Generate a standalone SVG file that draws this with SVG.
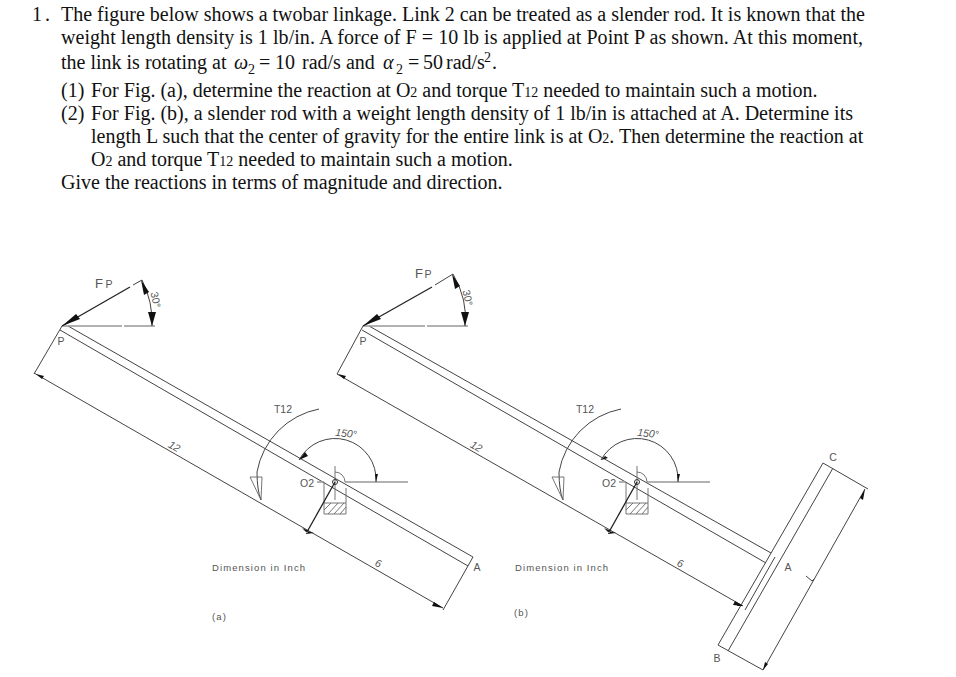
<svg xmlns="http://www.w3.org/2000/svg" width="956" height="677" viewBox="0 0 956 677">
<style>
.t{font-family:"Liberation Serif","Times New Roman",serif;font-size:20px;fill:#111}
.s{font-size:14px}
.i{font-style:italic}
.c{font-family:"Liberation Sans",Arial,sans-serif;fill:#555;font-size:10.5px;text-anchor:middle}
.f{font-size:13px}
.d{font-family:"Liberation Sans",Arial,sans-serif;fill:#555;font-size:9.5px;letter-spacing:1.1px}
.l{fill:none;stroke:#444;stroke-width:1}
.g{fill:none;stroke:#999;stroke-width:1.4}
.k{fill:none;stroke:#222;stroke-width:1.3}
.h{fill:none;stroke:#666;stroke-width:.9}
.a{fill:#111;stroke:none}
</style>
<rect width="956" height="677" fill="#fff"/>
<g id="problem-text">
<text class="t" x="32" y="21" letter-spacing="3">1.</text>
<text class="t" x="61" y="21" textLength="804">The figure below shows a twobar linkage. Link 2 can be treated as a slender rod. It is known that the</text>
<text class="t" x="61" y="44" textLength="802">weight length density is 1 lb/in. A force of F = 10 lb is applied at Point P as shown. At this moment,</text>
<text class="t" x="61" y="69">the link is rotating at<tspan class="i" x="234">ω</tspan><tspan class="s" x="248" dy="5">2</tspan><tspan x="259" dy="-5">=</tspan><tspan x="275">10</tspan><tspan x="302">rad/s and</tspan><tspan class="i" x="383">α</tspan><tspan class="s" x="396" dy="5">2</tspan><tspan x="408" dy="-5">=</tspan><tspan x="423">50</tspan><tspan x="446">rad/s</tspan><tspan class="s" x="484" dy="-7">2</tspan><tspan x="492" dy="7">.</tspan></text>
<text class="t" x="61" y="97">(1)</text>
<text class="t" x="91" y="97">For Fig. (a), determine the reaction at O<tspan class="s">2</tspan> and torque T<tspan class="s">12</tspan> needed to maintain such a motion.</text>
<text class="t" x="61" y="120">(2)</text>
<text class="t" x="91" y="120" textLength="762">For Fig. (b), a slender rod with a weight length density of 1 lb/in is attached at A. Determine its</text>
<text class="t" x="91" y="143">length L such that the center of gravity for the entire link is at O<tspan class="s">2</tspan>. Then determine the reaction at</text>
<text class="t" x="91" y="166">O<tspan class="s">2</tspan> and torque T<tspan class="s">12</tspan> needed to maintain such a motion.</text>
<text class="t" x="61" y="189">Give the reactions in terms of magnitude and direction.</text>
</g>
<g id="figure-a">
<path class="l" d="M68 326L473 557M60 330L468 566M62 326L34 374M473 557L443 610M34 373L443 608"/>
<path class="a" d="M36 374L44 376L42 379ZM443 608L434 602L432 606Z"/>
<path class="g" d="M62 326H122M124 326H155M345 482H408M317 482H324"/>
<path class="k" d="M62 326L130 287"/><path class="l" d="M133 285L142 280"/>
<path class="a" d="M62 326L76 314L80 319Z"/>
<path class="l" d="M142 280Q153 302 152 326"/>
<path class="a" d="M141 280L149 292L144 295ZM152 326L148 312L156 312Z"/>
<path class="l" d="M319 409A78 78 0 0 0 257 472Q257 490 261 500"/>
<path class="h" d="M261 500L250 477L262 477Z"/>
<path class="l" d="M376 482A41 41 0 0 0 299 460"/>
<path class="a" d="M376 482L375 474L378 474ZM299 460L305 452L308 456Z"/>
<path class="h" d="M335 466V500M324 482V514H346V488M324 503H346"/>
<path class="h" d="M335 472A10 10 0 0 1 345 482M328 514L338 503M334 514L344 503M340 514L346 507M324 510L331 503"/>
<circle cx="335" cy="482" r="2.5" fill="none" stroke="#333"/>
<path class="k" d="M335 482L307 532"/>
<path class="a" d="M302 528L309 531L307 533ZM314 533L307 531L306 534Z"/>
<text class="c f" x="99" y="288">F</text><text class="c" x="109" y="288">P</text>
<text class="c" x="61" y="345">P</text>
<text class="c" x="283" y="413">T12</text>
<text class="c" x="307" y="487">O2</text>
<text class="c" x="477" y="571">A</text>
<text class="c" transform="translate(155 300) rotate(78)" x="0" y="3">30°</text>
<text class="c i" transform="translate(346 434) rotate(6)" x="0" y="3">150°</text>
<text class="c i" transform="translate(174 447) rotate(30)" x="0" y="3">12</text>
<text class="c i" transform="translate(378 564) rotate(20)" x="0" y="3">6</text>
<text class="d" x="212" y="571">Dimension in Inch</text>
<text class="d" x="212" y="620">(a)</text>
</g>
<g id="figure-b">
<path class="l" d="M369 326L771 553M362 330L766 563M363 326L337 374M337 374L743 606"/>
<path class="a" d="M338 374L346 376L344 379ZM743 606L735 601L733 605Z"/>
<path class="g" d="M363 326H425M427 326H468M647 482H710M619 482H626"/>
<path class="k" d="M363 326L432 287"/><path class="l" d="M435 285L453 274"/>
<path class="a" d="M363 326L377 314L381 319Z"/>
<path class="l" d="M453 274Q468 300 465 326"/>
<path class="a" d="M452 274L460 286L455 289ZM465 326L461 312L469 312Z"/>
<path class="l" d="M621 409A78 78 0 0 0 559 472Q559 490 563 500"/>
<path class="h" d="M563 500L552 477L564 477Z"/>
<path class="l" d="M678 482A41 41 0 0 0 601 460"/>
<path class="a" d="M678 482L677 474L680 474ZM601 460L605 456L608 458Z"/>
<path class="h" d="M637 466V500M626 482V514H648V488M626 503H648"/>
<path class="h" d="M637 472A10 10 0 0 1 647 482M630 514L640 503M636 514L646 503M642 514L648 507M626 510L633 503"/>
<circle cx="637" cy="482" r="2.5" fill="none" stroke="#333"/>
<path class="k" d="M637 482L609 532"/>
<path class="a" d="M604 528L611 531L609 533ZM616 533L609 531L608 534Z"/>
<path class="l" d="M823 463L718 645M833 468L728 651M823 463L868 489M718 645L763 670M775 557L745 610M865 489L763 670M806 576L812 581L815 578"/>
<path class="a" d="M865 489L860 498L863 500ZM763 670L765 662L768 664ZM743 606L738 603L737 606Z"/>
<text class="c f" x="419" y="278">F</text><text class="c" x="428" y="278">P</text>
<text class="c" x="363" y="345">P</text>
<text class="c" x="585" y="413">T12</text>
<text class="c" x="609" y="487">O2</text>
<text class="c" x="833" y="461">C</text>
<text class="c" x="788" y="571">A</text>
<text class="c" x="717" y="662">B</text>
<text class="c" transform="translate(467 298) rotate(78)" x="0" y="3">30°</text>
<text class="c i" transform="translate(648 434) rotate(6)" x="0" y="3">150°</text>
<text class="c i" transform="translate(476 447) rotate(30)" x="0" y="3">12</text>
<text class="c i" transform="translate(680 564) rotate(20)" x="0" y="3">6</text>
<text class="d" x="515" y="571">Dimension in Inch</text>
<text class="d" x="514" y="616">(b)</text>
</g>
</svg>
